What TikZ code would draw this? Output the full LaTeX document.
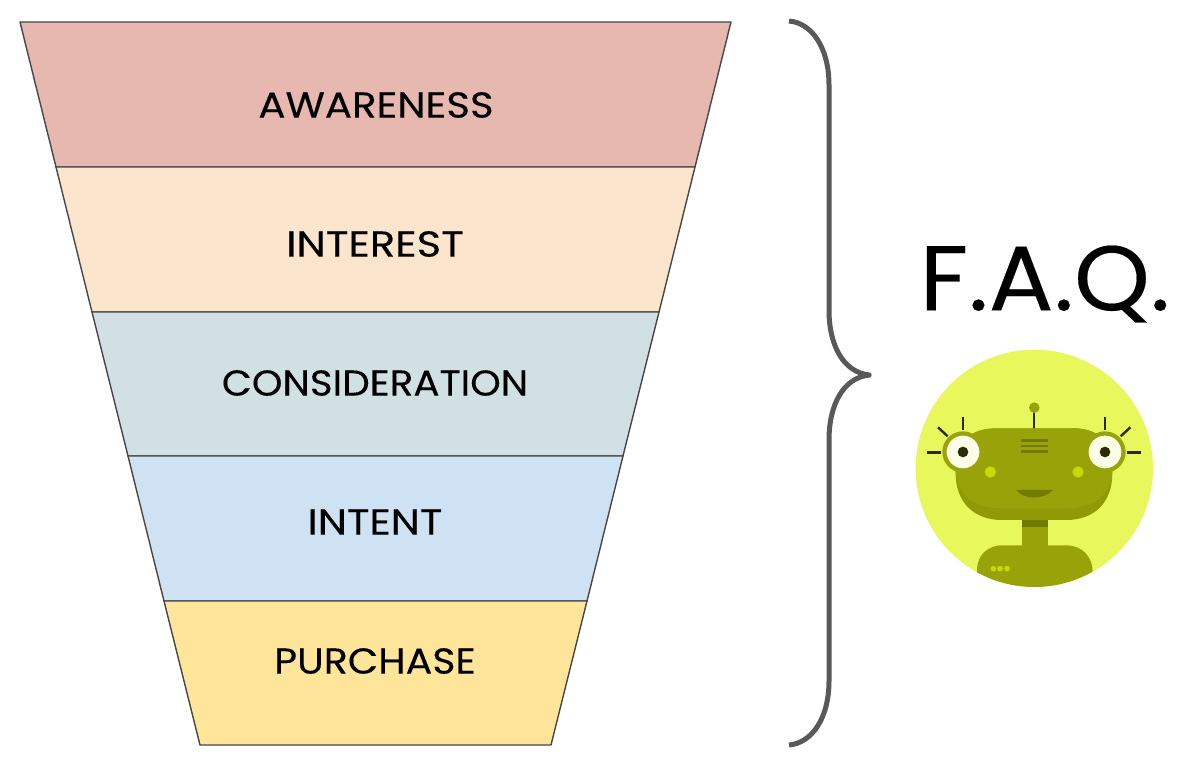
\documentclass[tikz,border=0pt]{standalone}
\usepackage{fontspec}
\usepackage{graphicx}
\setmainfont{Poppins}
\newfontfamily\stagefont{Poppins}[FakeStretch=1.12,FakeBold=0.25]
\newfontfamily\headfont{Poppins}[FakeStretch=1.05,FakeBold=0.2]
\definecolor{robotbg}{HTML}{E8F75C}
\definecolor{robotbody}{HTML}{98A309}
\definecolor{robotlip}{HTML}{8F9A06}
\definecolor{robotdark}{HTML}{717B04}
\definecolor{robotcheek}{HTML}{C9D907}
\definecolor{lashes}{HTML}{2A2C05}
\definecolor{bandone}{RGB}{230,184,175}
\definecolor{bandtwo}{RGB}{252,229,205}
\definecolor{bandthree}{RGB}{208,224,227}
\definecolor{bandfour}{RGB}{207,226,243}
\definecolor{bandfive}{RGB}{255,229,153}
\tikzset{
  band/.style={draw=black!72,line width=1.4pt,line join=round},
  stage/.style={font=\stagefont\fontsize{36}{40}\selectfont,text=black,inner sep=0pt,anchor=center},
  lash/.style={draw=lashes,line width=2.4pt},
  bracket/.style={draw=black!65,line width=5pt}
}
\begin{document}
\begin{tikzpicture}[x=1pt,y=-1pt]
\useasboundingbox (0,0) rectangle (1200,762);
\fill[white] (0,0) rectangle (1200,762);
% funnel bands
\draw[band,fill=bandone] (20,22) -- (731,22) -- (695,167) -- (56,167) -- cycle;
\draw[band,fill=bandtwo] (56,167) -- (695,167) -- (659,312) -- (92,312) -- cycle;
\draw[band,fill=bandthree] (92,312) -- (659,312) -- (623,456) -- (128,456) -- cycle;
\draw[band,fill=bandfour] (128,456) -- (623,456) -- (587,601) -- (164,601) -- cycle;
\draw[band,fill=bandfive] (164,601) -- (587,601) -- (551,745) -- (200,745) -- cycle;
% stage labels
\node[stage] (awareness) at (376,105) {AWARENESS};
\node[stage] (interest) at (375,244) {\scalebox{1.035}[1]{INTEREST}};
\node[stage] (consideration) at (375,383) {\scalebox{0.965}[1]{CONSIDERATION}};
\node[stage] (intent) at (375,522) {\scalebox{1.03}[1]{INTENT}};
\node[stage] (purchase) at (375,661) {\scalebox{0.98}[1]{PURCHASE}};
% curly bracket
\draw[bracket] (789,21) .. controls (812,23) and (829,48) .. (829,85) -- (829,310)
  .. controls (829,345) and (843,372) .. (869,375);
\draw[bracket] (789,745) .. controls (812,743) and (829,718) .. (829,681) -- (829,440)
  .. controls (829,405) and (843,378) .. (869,375);
\fill[black!65] (869,375) circle (2.6);
% heading
\node[font=\headfont\fontsize{92}{96}\selectfont,inner sep=0pt] (faq) at (1045,284) {F.A.Q.};
% robot badge, drawn on a 3:1 local grid
\begin{scope}[shift={(900,340)},x=0.3333pt,y=-0.3333pt]
  \fill[robotbg] (403,385) circle (356);
  \begin{scope}
    \clip (403,385) circle (356);
    \fill[robotbody] (231,800) -- (231,690) .. controls (231,645) and (265,616) .. (305,616)
      -- (500,616) .. controls (545,616) and (578,650) .. (578,695) -- (578,800) -- cycle;
  \end{scope}
  \fill[robotbody] (365,530) rectangle (443,620);
  \fill[robotdark] (365,540) rectangle (443,561);
  \foreach \cx in {280,300,321} \fill[robotcheek] (\cx,686) circle (8.5);
  % antenna
  \draw[lash,line width=2pt] (403,205) -- (403,270);
  \fill[robotbody] (403,203) circle (16);
  % head
  \fill[robotlip] (167,400) .. controls (167,310) and (205,265) .. (290,265) -- (520,265)
    .. controls (600,265) and (637,310) .. (637,400) .. controls (637,490) and (580,540) .. (500,540)
    -- (305,540) .. controls (225,540) and (167,490) .. (167,400) -- cycle;
  \fill[robotbody] (167,390) .. controls (167,310) and (205,265) .. (290,265) -- (520,265)
    .. controls (600,265) and (637,310) .. (637,390) .. controls (637,465) and (580,505) .. (500,505)
    -- (305,505) .. controls (225,505) and (167,465) .. (167,390) -- cycle;
  % forehead vents
  \foreach \vy in {302,318,335} \fill[robotdark] (363,\vy-4) rectangle (443,\vy+4);
  % cheeks and smile
  \fill[robotcheek] (271,396) circle (17);
  \fill[robotcheek] (534,396) circle (17);
  \fill[robotdark] (348,450) .. controls (370,480) and (435,480) .. (458,450) -- cycle;
  % eyes
  \foreach \ex/\ey in {189/336,615/336}{
    \fill[robotbody] (\ex,\ey) circle (62);
    \fill[white!85!robotbg] (\ex,\ey) circle (49);
    \fill[lashes] (\ex,\ey) circle (16);
  }
  % eyelashes
  \draw[lash] (189,230) -- (189,270);
  \draw[lash] (114,262) -- (143,289);
  \draw[lash] (82,337) -- (122,337);
  \draw[lash] (615,230) -- (615,270);
  \draw[lash] (691,262) -- (662,289);
  \draw[lash] (682,337) -- (722,337);
\end{scope}
\end{tikzpicture}
\end{document}
